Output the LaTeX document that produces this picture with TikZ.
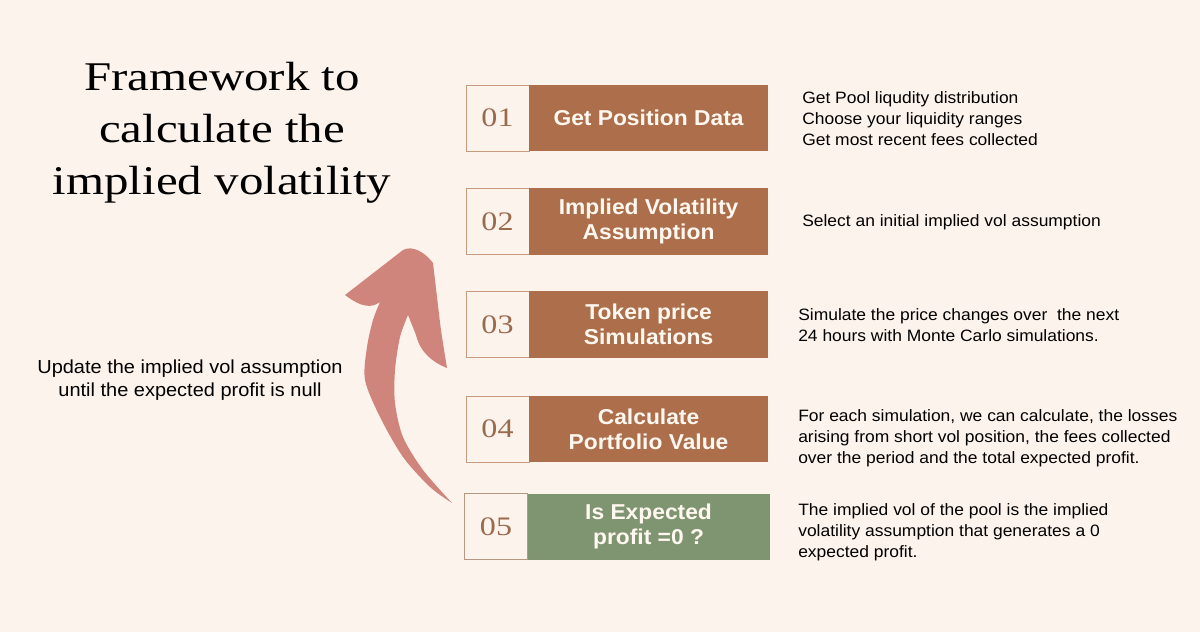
\documentclass[tikz,border=0pt]{standalone}
\usepackage{fontspec}
\setmainfont[FakeStretch=1.06]{Liberation Sans}
\newfontfamily\titlefont[FakeStretch=1.2]{Liberation Serif}
\usepackage{xcolor}
\usetikzlibrary{positioning}

\definecolor{bgcream}{HTML}{FDF3ED}
\definecolor{stepbrown}{HTML}{AD6E4B}
\definecolor{stepgreen}{HTML}{7F9470}
\definecolor{arrowpink}{HTML}{CF857B}
\definecolor{numbrown}{HTML}{9A6A4C}
\definecolor{edgebrown}{HTML}{C79A7D}
\definecolor{textcream}{HTML}{FFF8F0}

\begin{document}
\begin{tikzpicture}[x=0.025cm, y=-0.025cm,
      numbox/.style={rectangle, draw=edgebrown, line width=0.6pt, fill=bgcream, minimum width=1.575cm, minimum height=1.65cm, outer sep=0pt, inner sep=0pt, text=numbrown, font=\titlefont\fontsize{19}{19}\selectfont},
      stepbox/.style={rectangle, fill=stepbrown, minimum width=5.975cm, minimum height=1.65cm, outer sep=0pt, text=textcream, align=center, font=\bfseries\fontsize{15.3}{18}\selectfont},
      desc/.style={anchor=west, align=left, font=\fontsize{11.7}{15}\selectfont, inner sep=0pt}
    ]
    \fill[bgcream] (0,0) rectangle (1200,632);
    \useasboundingbox (0,0) rectangle (1200,632);

    % Title
    \node[align=center, font=\titlefont\fontsize{29}{37}\selectfont] (title) at (222,133) {Framework to\\calculate the\\implied volatility};

    % Steps
    \node[numbox] (n1) at (497.5,118) {01};
    \node[stepbox, right=0pt of n1] (s1) {Get Position Data};
    \node[numbox] (n2) at (497.5,221.5) {02};
    \node[stepbox, right=0pt of n2] (s2) {Implied Volatility\\Assumption};
    \node[numbox] (n3) at (497.5,324.5) {03};
    \node[stepbox, right=0pt of n3] (s3) {Token price\\Simulations};
    \node[numbox] (n4) at (497.5,429) {04};
    \node[stepbox, right=0pt of n4] (s4) {Calculate\\Portfolio Value};
    \node[numbox, draw=numbrown!70] (n5) at (496,526.5) {05};
    \node[stepbox, fill=stepgreen, minimum width=6.05cm, right=0pt of n5] (s5) {Is Expected\\profit =0 ?};

    % Descriptions
    \node[desc] (d1) at (802,119) {Get Pool liqudity distribution\\Choose your liquidity ranges\\Get most recent fees collected};
    \node[desc] (d2) at (802,222) {Select an initial implied vol assumption};
    \node[desc] (d3) at (798,325.5) {Simulate the price changes over\ \ the next\\24 hours with Monte Carlo simulations.};
    \node[desc] (d4) at (798,438) {For each simulation, we can calculate, the losses\\arising from short vol position, the fees collected\\over the period and the total expected profit.};
    \node[desc] (d5) at (798,532) {The implied vol of the pool is the implied\\volatility assumption that generates a 0\\expected profit.};

    % Loop back
    \node[align=center, font=\fontsize{13.4}{16.4}\selectfont] (loop) at (190,380) {Update the implied vol assumption\\until the expected profit is null};
    \fill[arrowpink] plot[smooth] coordinates {(452,503) (430,487) (403,457) (380,417) (365,380) (367,347) (373,320) (380,302)}
      .. controls (372,308) and (362,308) .. (345,295)
      -- (403,250) .. controls (412,245) and (425,252) .. (433,263)
      -- plot[smooth] coordinates {(433,263) (437,297) (441,330) (447,368)}
      .. controls (432,362) and (420,352) .. (416,335) -- (408,315)
      -- plot[smooth] coordinates {(408,315) (400,337) (395,370) (395,403) (403,437) (423,470) (452,503)} -- cycle;
  \end{tikzpicture}
\end{document}
